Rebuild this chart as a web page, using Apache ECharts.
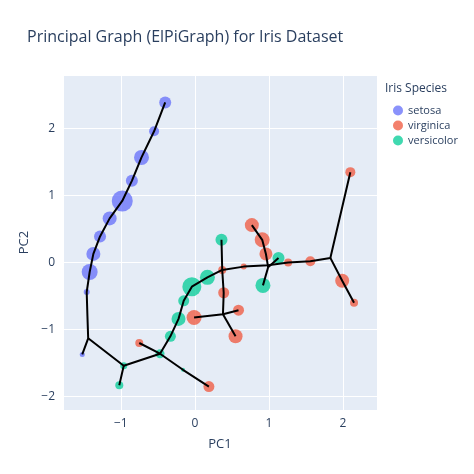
<!DOCTYPE html><html><head><meta charset="utf-8"><script src="https://cdn.jsdelivr.net/npm/echarts@6/dist/echarts.min.js"></script>
<style>html,body{margin:0;padding:0;background:#fff}#c{width:474px;height:474px}</style></head><body><div id="c"></div><script>
const speciesNames=['setosa','virginica','versicolor'];
const speciesColors=['#636efa','#EF553B','#00cc96'];
// nodes: [x, y, size]
const setosaNodes=[[-0.40,2.39,12],[-0.55,1.96,10],[-0.72,1.57,15],[-0.85,1.22,12],[-0.98,0.92,21],[-1.15,0.66,14],[-1.28,0.39,12],[-1.37,0.13,14],[-1.42,-0.14,16],[-1.46,-0.44,6],[-1.52,-1.37,5]];
const virginicaNodes=[[2.10,1.35,10],[0.77,0.56,14],[0.91,0.34,15],[0.96,0.13,13],[1.26,0.00,8],[1.56,0.02,10],[1.99,-0.27,14],[2.15,-0.60,8],[0.37,-0.11,8],[0.66,-0.06,6],[0.39,-0.45,11],[0.59,-0.71,11],[-0.01,-0.82,15],[0.55,-1.10,14],[-0.75,-1.20,8],[0.19,-1.85,11]];
const versicolorNodes=[[0.36,0.34,12],[1.13,0.07,12],[0.92,-0.34,15],[0.17,-0.22,15],[-0.04,-0.36,19],[-0.15,-0.57,11],[-0.22,-0.84,14],[-0.33,-1.10,11],[-0.47,-1.36,9],[-0.16,-1.60,4],[-0.96,-1.54,7],[-1.02,-1.83,8]];
// graph vertices (edge endpoints)
const edgePaths=[
 [[-0.40,2.39],[-0.55,1.96],[-0.72,1.57],[-0.85,1.22],[-0.98,0.92],[-1.15,0.66],[-1.28,0.39],[-1.37,0.13],[-1.42,-0.14],[-1.46,-0.44],[-1.45,-0.80],[-1.44,-1.13],[-1.52,-1.37]],
 [[-1.44,-1.13],[-0.96,-1.54],[-1.02,-1.83]],
 [[-0.96,-1.54],[-0.47,-1.36],[-0.75,-1.20]],
 [[-0.47,-1.36],[-0.16,-1.60],[0.19,-1.85]],
 [[-0.47,-1.36],[-0.33,-1.10],[-0.22,-0.84],[-0.15,-0.57],[-0.04,-0.36],[0.17,-0.22],[0.37,-0.11],[0.66,-0.06],[0.99,-0.04],[1.26,0.00],[1.56,0.02],[1.83,0.07],[2.10,1.35]],
 [[1.83,0.07],[1.99,-0.27],[2.15,-0.60]],
 [[0.36,0.34],[0.37,-0.11],[0.39,-0.45],[0.38,-0.77],[-0.01,-0.82]],
 [[0.38,-0.77],[0.59,-0.71]],
 [[0.38,-0.77],[0.55,-1.10]],
 [[0.77,0.56],[0.91,0.34],[0.96,0.13],[0.99,-0.07],[1.13,0.07]],
 [[0.99,-0.07],[0.92,-0.34]]
];
const nodeSets=[setosaNodes,virginicaNodes,versicolorNodes];
const series=[];
edgePaths.forEach(p=>series.push({type:'line',data:p,symbol:'none',silent:true,lineStyle:{color:'#000',width:2},z:3}));
nodeSets.forEach((ns,i)=>series.push({type:'scatter',name:speciesNames[i],data:ns.map(n=>[n[0],n[1]]),
 symbolSize:(v,p)=>ns[p.dataIndex][2],itemStyle:{color:speciesColors[i],opacity:0.75},z:2}));
const txt='#2a3f5f';
const chart=echarts.init(document.getElementById('c'));
chart.setOption({
 animation:false,backgroundColor:'#fff',
 title:{text:'Principal Graph (ElPiGraph) for Iris Dataset',left:22,top:24,textStyle:{fontFamily:'Open Sans',fontWeight:'normal',fontSize:16,color:txt}},
 graphic:[{type:'text',left:385,top:83,style:{text:'Iris Species',fontFamily:'Open Sans',fontSize:12,fill:txt}}],
 legend:{data:speciesNames,orient:'vertical',left:388,top:100,itemGap:4,itemWidth:10,itemHeight:10,icon:'circle',
  textStyle:{fontFamily:'Open Sans',fontSize:11,color:txt}},
 grid:{left:63,right:97,top:75,bottom:64,backgroundColor:'#E5ECF6',show:true,borderWidth:0},
 xAxis:{type:'value',min:-1.78,max:2.46,splitNumber:4,name:'PC1',nameLocation:'middle',nameGap:28,
  nameTextStyle:{fontFamily:'Open Sans',fontSize:13,color:txt},
  axisLine:{show:false},axisTick:{show:false},axisLabel:{showMinLabel:false,showMaxLabel:false,color:txt,fontFamily:'Open Sans',fontSize:12,formatter:v=>String(v).replace('-','−')},
  splitLine:{lineStyle:{color:'#fff',width:1}}},
 yAxis:{type:'value',min:-2.2,max:2.8,splitNumber:5,name:'PC2',nameLocation:'middle',nameGap:32,
  nameTextStyle:{fontFamily:'Open Sans',fontSize:13,color:txt},
  axisLine:{show:false},axisTick:{show:false},axisLabel:{showMinLabel:false,showMaxLabel:false,color:txt,fontFamily:'Open Sans',fontSize:12,formatter:v=>String(v).replace('-','−')},
  splitLine:{lineStyle:{color:'#fff',width:1}}},
 series:series
});
</script></body></html>
